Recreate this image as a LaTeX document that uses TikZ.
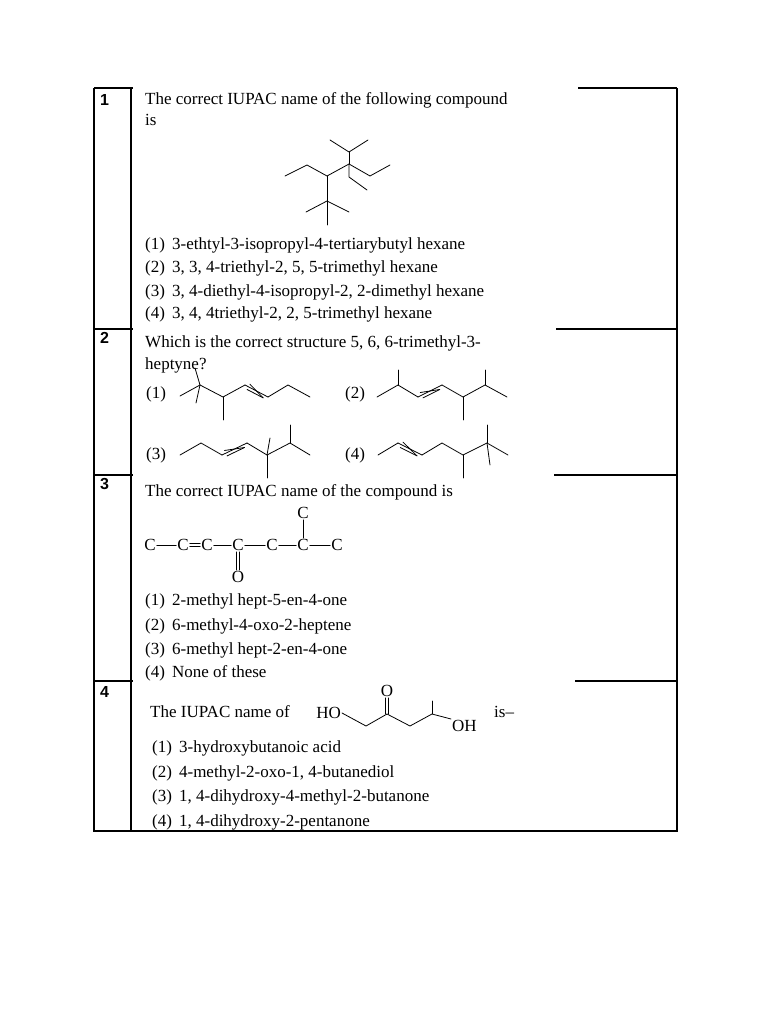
\documentclass[tikz,border=0pt]{standalone}
\usepackage{fontspec}
\setmainfont{Liberation Serif}
\newfontfamily\numfont{Liberation Sans}
\usetikzlibrary{calc}
\newcommand\tbond[2]{%
  \draw[bnd] #1 -- #2;
  \draw[bnd] ($ ($ #1!0.15!#2 $)!3pt!90:#2 $) -- ($ ($ #1!0.85!#2 $)!-3pt!-90:#1 $);
  \draw[bnd] ($ ($ #1!0.15!#2 $)!3pt!-90:#2 $) -- ($ ($ #1!0.85!#2 $)!3pt!90:#1 $);}
\begin{document}
\begin{tikzpicture}[x=1pt,y=-1pt,
  txt/.style={anchor=west,inner sep=0pt,font=\fontsize{17}{20}\selectfont},
  num/.style={anchor=west,inner sep=0pt,font=\numfont\bfseries\fontsize{16}{18}\selectfont},
  bnd/.style={line width=0.8pt,line cap=round},
  frame/.style={line width=1.3pt},
  atom/.style={inner sep=1pt,font=\fontsize{17}{20}\selectfont}]
\useasboundingbox (0,0) rectangle (768,1024);
% table frame
\draw[frame] (94,88) -- (94,831) -- (677,831) -- (677,88);
\draw[frame] (131,88) -- (131,831);
\foreach \y/\a in {88/578,329/556,475/554,681/575}{
  \draw[frame] (94,\y) -- (133,\y);
  \draw[frame] (\a,\y) -- (677,\y);}
% numbers
\node[num] (n1) at (100,100) {1};
\node[num] (n2) at (100,338) {2};
\node[num] (n3) at (100,484) {3};
\node[num] (n4) at (100,692) {4};
% Q1
\node[txt] (q1a) at (145,100) {The correct IUPAC name of the following compound};
\node[txt] (q1b) at (145,120) {is};
\draw[bnd] (285,176) -- (307,165) -- (327,176) -- (349,164) -- (370,176) -- (390,165);
\draw[bnd] (327,176) -- (327,201);
\draw[bnd] (306,212) -- (327,201) -- (349,212);
\draw[bnd] (327,201) -- (327,225);
\draw[bnd] (349,164) -- (349,152);
\draw[bnd] (330,140) -- (349,152) -- (368,140);
\draw[bnd] (349,164) -- (349,177) -- (367,190);
\node[txt] (q1o1) at (145,245) {(1)\, 3-ethtyl-3-isopropyl-4-tertiarybutyl hexane};
\node[txt] (q1o2) at (145,268) {(2)\, 3, 3, 4-triethyl-2, 5, 5-trimethyl hexane};
\node[txt] (q1o3) at (145,292) {(3)\, 3, 4-diethyl-4-isopropyl-2, 2-dimethyl hexane};
\node[txt] (q1o4) at (145,314) {(4)\, 3, 4, 4triethyl-2, 2, 5-trimethyl hexane};
% Q2
\node[txt] (q2a) at (145,343) {Which is the correct structure 5, 6, 6-trimethyl-3-};
\node[txt] (q2b) at (145,365) {heptyne?};
\node[txt] (l1) at (146,394) {(1)};
\node[txt] (l2) at (345,394) {(2)};
\node[txt] (l3) at (146,455) {(3)};
\node[txt] (l4) at (345,455) {(4)};
% struct 1
\draw[bnd] (180,396) -- (200,385) -- (195,368);
\draw[bnd] (200,385) -- (196,403);
\draw[bnd] (200,385) -- (223,397) -- (245,385);
\draw[bnd] (223,397) -- (223,420);
\tbond{(245,385)}{(268,397)}
\draw[bnd] (268,397) -- (288,385) -- (310,397);
% struct 2
\draw[bnd] (377,397) -- (398,385) -- (418,397);
\draw[bnd] (398,385) -- (398,370);
\tbond{(418,397)}{(442,385)}
\draw[bnd] (442,385) -- (463,397) -- (485,385) -- (507,397);
\draw[bnd] (463,397) -- (463,420);
\draw[bnd] (485,385) -- (485,370);
% struct 3
\draw[bnd] (180,455) -- (201,443) -- (222,455);
\tbond{(222,455)}{(247,443)}
\draw[bnd] (247,443) -- (267,455) -- (290,443) -- (310,455);
\draw[bnd] (267,455) -- (267,478);
\draw[bnd] (267,455) -- (270,438);
\draw[bnd] (290,443) -- (290,425);
% struct 4
\draw[bnd] (378,455) -- (398,443);
\tbond{(398,443)}{(422,455)}
\draw[bnd] (422,455) -- (442,443) -- (463,455) -- (487,443) -- (508,455);
\draw[bnd] (463,455) -- (463,478);
\draw[bnd] (487,443) -- (487,425);
\draw[bnd] (487,443) -- (490,465);
% Q3
\node[txt] (q3a) at (145,492) {The correct IUPAC name of the compound is};
\node[atom] (c1) at (150,545) {C};
\node[atom] (c2) at (183,545) {C};
\node[atom] (c3) at (207,545) {C};
\node[atom] (c4) at (238,545) {C};
\node[atom] (c5) at (272,545) {C};
\node[atom] (c6) at (303,545) {C};
\node[atom] (c7) at (337,545) {C};
\node[atom] (c8) at (303,513) {C};
\node[atom] (o1) at (238,577) {O};
\draw[bnd] (c1) -- (c2);
\draw[bnd] ([yshift=-1.8pt]c2.east) -- ([yshift=-1.8pt]c3.west);
\draw[bnd] ([yshift=1.8pt]c2.east) -- ([yshift=1.8pt]c3.west);
\draw[bnd] (c3) -- (c4);
\draw[bnd] (c4) -- (c5);
\draw[bnd] (c5) -- (c6);
\draw[bnd] (c6) -- (c7);
\draw[bnd] (c6) -- (c8);
\draw[bnd] ([xshift=-1.8pt]c4.south) -- ([xshift=-1.8pt]o1.north);
\draw[bnd] ([xshift=1.8pt]c4.south) -- ([xshift=1.8pt]o1.north);
\node[txt] (q3o1) at (145,601) {(1)\, 2-methyl hept-5-en-4-one};
\node[txt] (q3o2) at (145,626) {(2)\, 6-methyl-4-oxo-2-heptene};
\node[txt] (q3o3) at (145,650) {(3)\, 6-methyl hept-2-en-4-one};
\node[txt] (q3o4) at (145,673) {(4)\, None of these};
% Q4
\node[txt] (q4a) at (150,712) {The IUPAC name of};
\node[atom,anchor=east] (ho) at (342,713) {HO};
\node[atom] (o2) at (387,691) {O};
\node[atom,anchor=north west] (oh) at (451,719) {OH};
\node[txt] (q4b) at (494,712) {is--};
\coordinate (k1) at (366,726);
\coordinate (k2) at (387,714);
\coordinate (k3) at (410,726);
\coordinate (k4) at (432,714);
\coordinate (k5) at (432,701);
\draw[bnd] (ho.east) -- (k1) -- (k2) -- (k3) -- (k4) -- (oh.north west);
\draw[bnd] (k4) -- (k5);
\draw[bnd] ([xshift=-1.6pt]k2) -- ([xshift=-1.6pt]o2.south);
\draw[bnd] ([xshift=1.6pt]k2) -- ([xshift=1.6pt]o2.south);
\node[txt] (q4o1) at (152,748) {(1)\, 3-hydroxybutanoic acid};
\node[txt] (q4o2) at (152,773) {(2)\, 4-methyl-2-oxo-1, 4-butanediol};
\node[txt] (q4o3) at (152,797) {(3)\, 1, 4-dihydroxy-4-methyl-2-butanone};
\node[txt] (q4o4) at (152,822) {(4)\, 1, 4-dihydroxy-2-pentanone};
\end{tikzpicture}
\end{document}
